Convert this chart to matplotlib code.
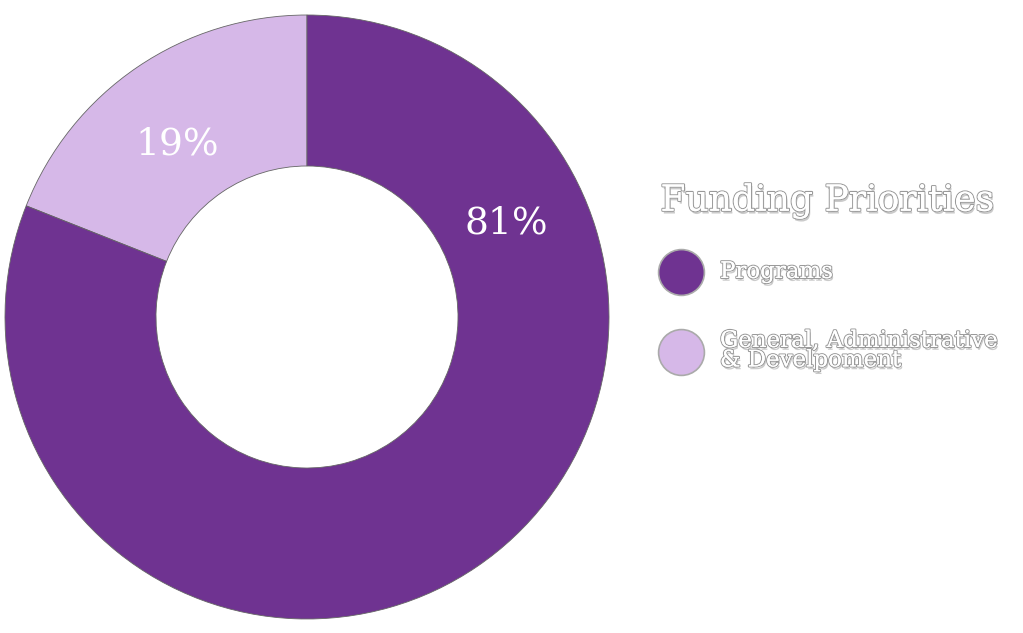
import matplotlib
matplotlib.use("Agg")
import matplotlib.pyplot as plt
import matplotlib.patheffects as pe
from matplotlib.lines import Line2D

labels = ["Programs", "General, Administrative\n& Develpoment"]
values = [81, 19]
colors = ["#6f3391", "#d6b8e8"]
title = "Funding Priorities"

fig = plt.figure(figsize=(10.23, 6.33), dpi=100)
ax = fig.add_axes([5 / 1023, 14 / 633, 604 / 1023, 604 / 633])
# 19% slice drawn first, counterclockwise from the top
wedges, _ = ax.pie(values[::-1], colors=colors[::-1], startangle=90, counterclock=True,
                   wedgeprops=dict(width=0.5, edgecolor="#666666", linewidth=0.6))
ax.set_xlim(-1, 1)
ax.set_ylim(-1, 1)
ax.set_aspect("equal")

ax.text(0.66, 0.31, "81%", color="white", fontsize=27, family="DejaVu Serif", ha="center", va="center")
ax.text(-0.43, 0.57, "19%", color="white", fontsize=27, family="DejaVu Serif", ha="center", va="center")

shadow = [pe.SimplePatchShadow(offset=(1, -2), shadow_rgbFace="#999999", alpha=0.5),
          pe.withStroke(linewidth=1.6, foreground="#9a9a9a"), pe.Normal()]
fig.text(827 / 1023, 1 - 201 / 633, title, color="white", fontsize=26, family="DejaVu Serif",
         ha="center", va="center", path_effects=shadow)
for i, (lab, c) in enumerate(zip(labels, colors)):
    y = 1 - (272 + 80 * i) / 633
    fig.add_artist(Line2D([681 / 1023], [y], marker="o", markersize=33, color=c,
                          markeredgecolor="#aaaaaa", markeredgewidth=1.2, transform=fig.transFigure))
    fig.text(720 / 1023, y + (0 if i == 0 else 0.002), lab, color="white", fontsize=16.5,
             family="DejaVu Serif", ha="left", va="center", linespacing=0.85, path_effects=shadow)

fig.savefig("out.png", dpi=100)
